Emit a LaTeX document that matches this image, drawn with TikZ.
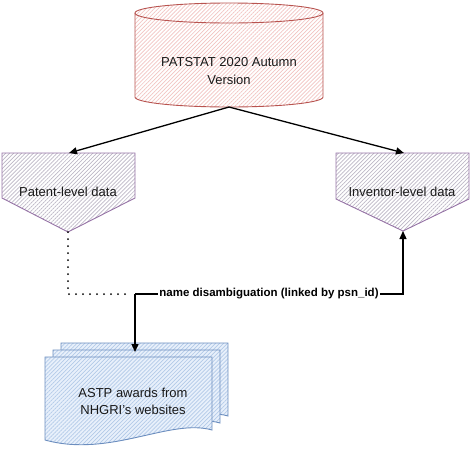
\documentclass[tikz,border=0pt]{standalone}
\usepackage{fontspec}
\setmainfont{Liberation Sans}
\usetikzlibrary{patterns.meta,arrows.meta}
\definecolor{cylstroke}{HTML}{B85450}
\definecolor{cylhatch}{HTML}{F2C4C2}
\definecolor{pstroke}{HTML}{9673A6}
\definecolor{phatch}{HTML}{BDB8C6}
\definecolor{dstroke}{HTML}{6C8EBF}
\definecolor{dfill}{HTML}{E8F0FB}
\definecolor{dhatch}{HTML}{B3CAE8}
\begin{document}
\begin{tikzpicture}[x=1pt,y=-1pt,
 hatch/.style={pattern={Lines[angle=45,distance=2.8pt,line width=0.7pt]}},
 cyl/.style={draw=cylstroke, line width=0.9pt, preaction={fill=white}, hatch, pattern color=cylhatch},
 pent/.style={draw=pstroke, line width=0.9pt, preaction={fill=white}, hatch, pattern color=phatch},
 doc/.style={draw=dstroke, line width=0.9pt, preaction={fill=dfill}, hatch, pattern color=dhatch},
 txt/.style={font=\fontsize{13}{17.5}\selectfont, align=center, text=black!90},
 lbl/.style={font=\bfseries\fontsize{11.5}{14}\selectfont, fill=white, inner sep=1pt, text=black},
 conn/.style={line width=1.3pt, -{Triangle[length=8pt,width=7pt]}},
 dotline/.style={line width=2pt, line cap=round, dash pattern=on 0pt off 7pt}]
\useasboundingbox (0,0) rectangle (474,448);

% cylinder
\path[cyl] (135,13) -- (135,97) arc[start angle=180,end angle=360,x radius=94pt,y radius=10pt]
  -- (323,13) arc[start angle=0,end angle=180,x radius=94pt,y radius=10pt] -- cycle;
\draw[cylstroke, line width=0.9pt] (135,13) arc[start angle=180,end angle=360,x radius=94pt,y radius=10pt];
\node[txt] (pat) at (229,71) {PATSTAT 2020 Autumn\\Version};
\coordinate (patb) at (229,107);

% pentagons
\path[pent] (2,153) -- (135,153) -- (135,198) -- (68,232) -- (2,198) -- cycle;
\node[txt] (pl) at (68,192) {Patent-level data};
\coordinate (plt) at (69,153);
\coordinate (plb) at (68,232);

\path[pent] (336,153) -- (469,153) -- (469,199) -- (403,231) -- (336,199) -- cycle;
\node[txt] (il) at (402,192) {Inventor-level data};
\coordinate (ilt) at (404,153);
\coordinate (ilb) at (403,231);

% multi-document
\begin{scope}[shift={(16,-14)}]
\path[doc] (45,357) -- (212,357) -- (212,430) .. controls (170,418) and (110,458) .. (45,440) -- cycle;
\end{scope}
\begin{scope}[shift={(8,-7)}]
\path[doc] (45,357) -- (212,357) -- (212,430) .. controls (170,418) and (110,458) .. (45,440) -- cycle;
\end{scope}
\path[doc] (45,357) -- (212,357) -- (212,430) .. controls (170,418) and (110,458) .. (45,440) -- cycle;
\node[txt] (astp) at (133,401.5) {ASTP awards from\\NHGRI's websites};
\coordinate (astpt) at (135,352);

% connectors
\draw[conn] (patb) -- (plt);
\draw[conn] (patb) -- (ilt);
\coordinate (dA) at (68,294);
\coordinate (dB) at (130,294);
\draw[dotline] (plb) -- (dA) -- (dB);
\coordinate (j) at (135,294);
\coordinate (k) at (403,294);
\draw[conn] (j) -- (astpt);
\draw[conn] (j) -- node[lbl] (lab) {name disambiguation (linked by psn\_id)} (k) -- (ilb);
\end{tikzpicture}
\end{document}
